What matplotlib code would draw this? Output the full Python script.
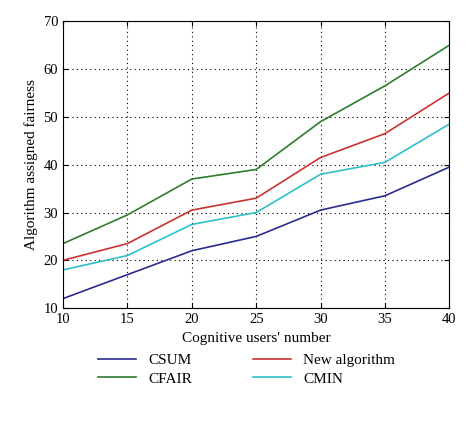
import matplotlib
matplotlib.use("Agg")
import matplotlib.pyplot as plt

x = [10, 15, 20, 25, 30, 35, 40]
csum = [12, 17, 22, 25, 30.5, 33.5, 39.5]
cfair = [23.5, 29.5, 37, 39, 49, 56.5, 65]
newalg = [20, 23.5, 30.5, 33, 41.5, 46.5, 55]
cmin = [18, 21, 27.5, 30, 38, 40.5, 48.5]

plt.rcParams['font.family'] = ['Liberation Serif', 'DejaVu Serif']
fig = plt.figure(figsize=(4.74, 4.25), dpi=100)
ax = fig.add_axes([0.133, 0.275, 0.815, 0.675])
l1, = ax.plot(x, csum, color='#2b2b8f', lw=1.2, label='CSUM')
l2, = ax.plot(x, cfair, color='#2e7d2e', lw=1.2, label='CFAIR')
l3, = ax.plot(x, newalg, color='#c83232', lw=1.2, label='New algorithm')
l4, = ax.plot(x, cmin, color='#2ec0c8', lw=1.2, label='CMIN')
ax.set_xlim(10, 40)
ax.set_ylim(10, 70)
ax.set_xticks(x)
ax.set_yticks(range(10, 71, 10))
ax.grid(True, color='black', linestyle=(0, (1, 3)), lw=0.8)
ax.tick_params(direction='in', labelsize=10.5, top=True, right=True)
ax.set_xlabel("Cognitive users' number", fontsize=11)
ax.set_ylabel("Algorithm assigned fairness", fontsize=11)
fig.legend(handles=[l1, l2, l3, l4], labels=['CSUM', 'CFAIR', 'New algorithm', 'CMIN'],
           loc='lower center', bbox_to_anchor=(0.52, 0.06), ncol=2, frameon=False,
           fontsize=11, columnspacing=4, handlelength=2.5, labelspacing=0.3)
fig.savefig("out.png", dpi=100)
